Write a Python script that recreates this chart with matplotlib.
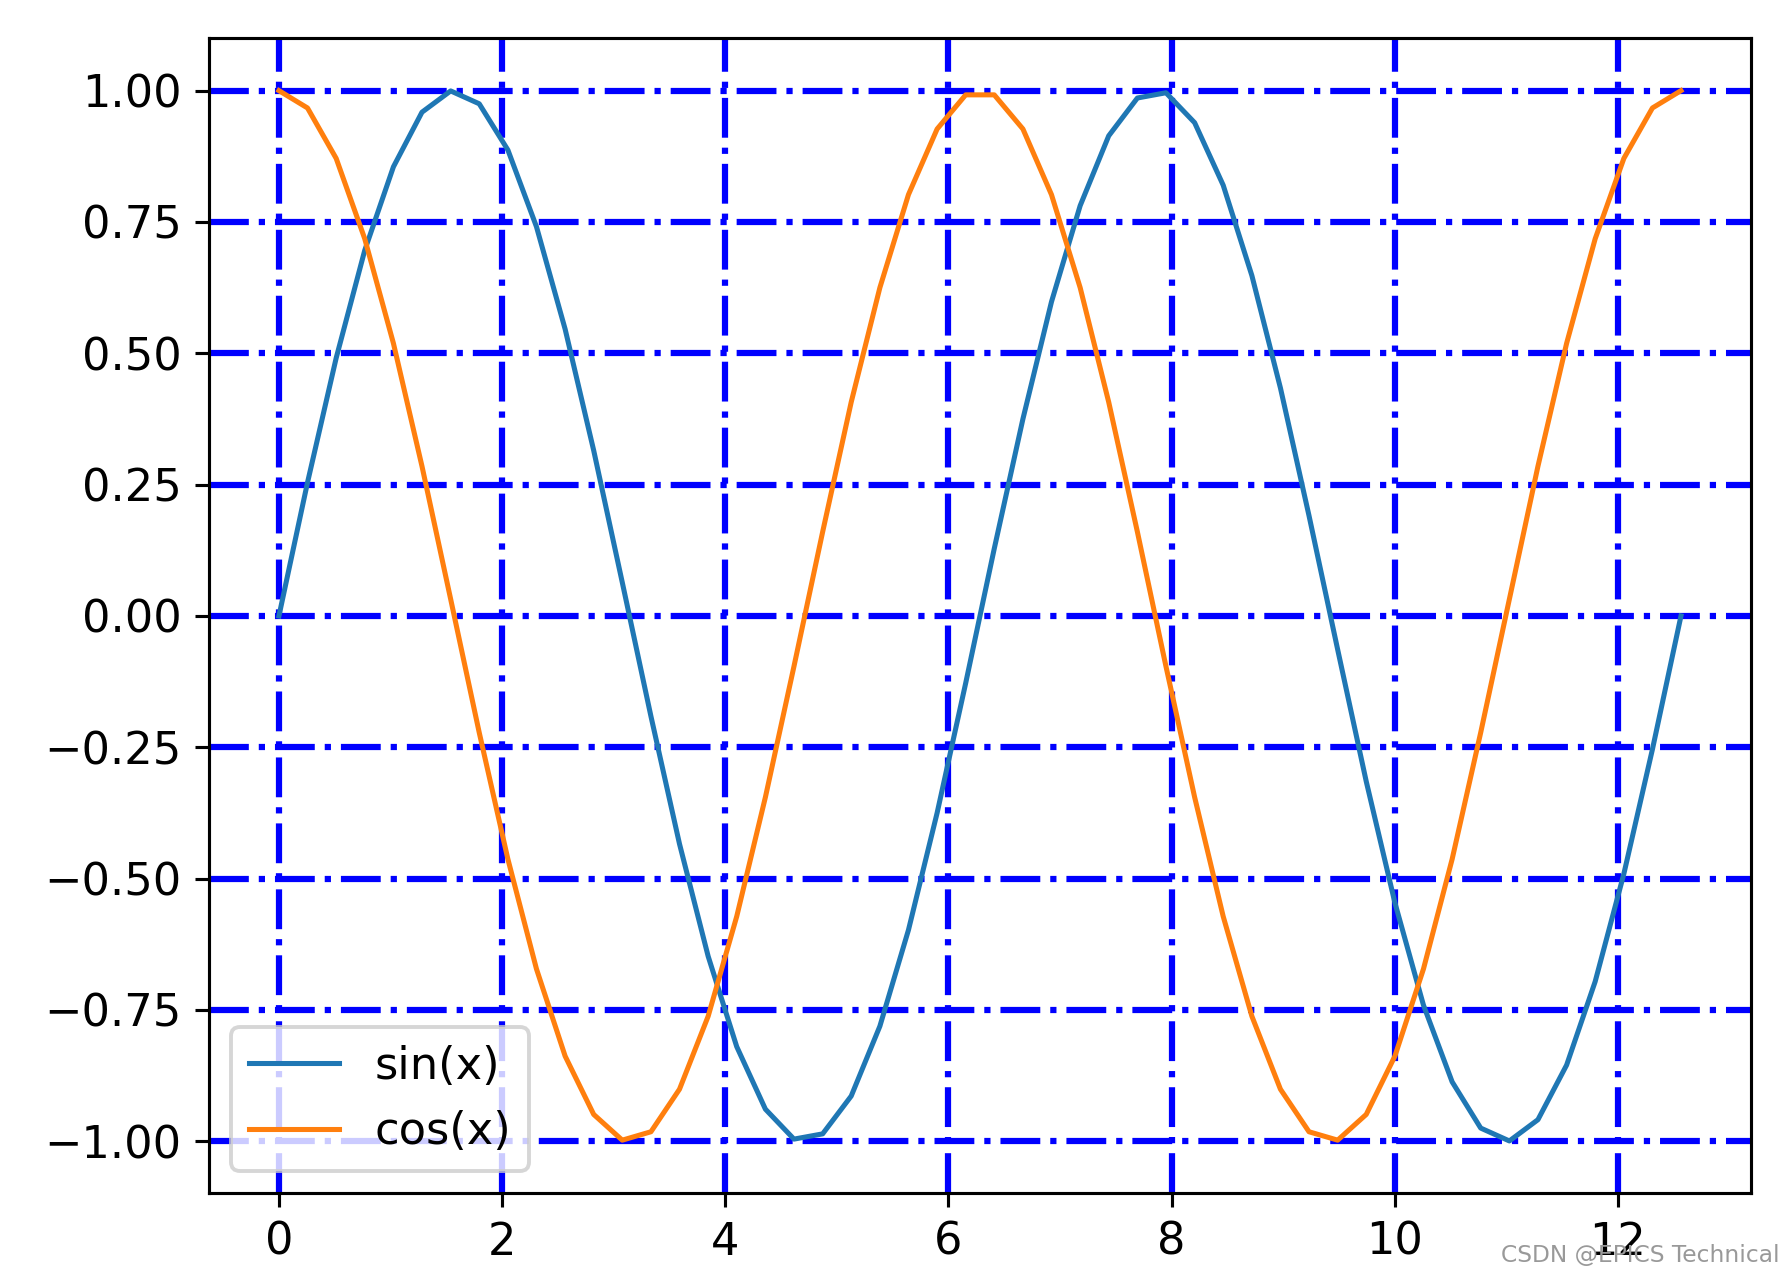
import matplotlib
matplotlib.use("Agg")
import matplotlib.pyplot as plt

x = [0.000, 0.256, 0.513, 0.769, 1.026, 1.282, 1.539, 1.795, 2.052, 2.308,
     2.565, 2.821, 3.077, 3.334, 3.590, 3.847, 4.103, 4.360, 4.616, 4.873,
     5.129, 5.386, 5.642, 5.899, 6.155, 6.411, 6.668, 6.924, 7.181, 7.437,
     7.694, 7.950, 8.207, 8.463, 8.720, 8.976, 9.232, 9.489, 9.745, 10.002,
     10.258, 10.515, 10.771, 11.028, 11.284, 11.541, 11.797, 12.054, 12.310, 12.566]
sin_y = [0, 0.254, 0.491, 0.696, 0.855, 0.959, 0.9995, 0.975, 0.887, 0.741,
         0.546, 0.315, 0.064, -0.191, -0.434, -0.648, -0.820, -0.939, -0.996, -0.986,
         -0.914, -0.781, -0.598, -0.375, -0.128, 0.128, 0.375, 0.598, 0.781, 0.914,
         0.986, 0.996, 0.939, 0.820, 0.648, 0.434, 0.191, -0.064, -0.315, -0.546,
         -0.741, -0.887, -0.975, -0.9995, -0.959, -0.855, -0.696, -0.491, -0.254, 0]
cos_y = [1, 0.967, 0.871, 0.718, 0.519, 0.285, 0.032, -0.222, -0.463, -0.672,
         -0.838, -0.949, -0.998, -0.982, -0.901, -0.762, -0.572, -0.345, -0.096, 0.160,
         0.407, 0.625, 0.802, 0.927, 0.992, 0.992, 0.927, 0.802, 0.625, 0.407,
         0.160, -0.096, -0.345, -0.572, -0.762, -0.901, -0.982, -0.998, -0.949, -0.838,
         -0.672, -0.463, -0.222, 0.032, 0.285, 0.519, 0.718, 0.871, 0.967, 1]

plt.rcParams['font.size'] = 11.5
fig = plt.figure(figsize=(1785/280, 1271/280), dpi=280)
ax = fig.add_axes([0.117, 0.061, 0.864, 0.909])
ax.plot(x, sin_y, label="sin(x)", linewidth=1.3)
ax.plot(x, cos_y, label="cos(x)", linewidth=1.3)
ax.grid(True, color="blue", linestyle="-.", linewidth=1.6)
ax.set_yticks([-1, -0.75, -0.5, -0.25, 0, 0.25, 0.5, 0.75, 1])
ax.legend(loc="lower left")
fig.text(0.997, 0.003, "CSDN @EPICS Technical", ha="right", va="bottom",
         fontsize=6, color="#999999")
fig.savefig("out.png", dpi=280)
